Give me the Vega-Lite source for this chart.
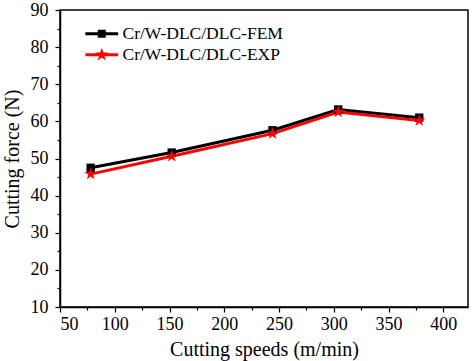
{
  "$schema": "https://vega.github.io/schema/vega-lite/v6.json",
  "autosize": {"type": "none"},
  "padding": {"left": 60, "top": 10, "right": 6, "bottom": 54},
  "width": 408,
  "height": 297,
  "config": {
    "font": "Liberation Serif",
    "view": {"stroke": "black", "strokeWidth": 1.5},
    "axis": {
      "grid": false,
      "domainColor": "black",
      "domainWidth": 1.5,
      "tickColor": "black",
      "tickWidth": 1.2,
      "labelColor": "black",
      "titleColor": "black",
      "labelFont": "Liberation Serif",
      "titleFont": "Liberation Serif",
      "labelOverlap": false,
      "titleFontWeight": "normal"
    }
  },
  "data": {
    "values": [
      {"series": "Cr/W-DLC/DLC-FEM", "speed": 78, "force": 47.5},
      {"series": "Cr/W-DLC/DLC-FEM", "speed": 152, "force": 51.6},
      {"series": "Cr/W-DLC/DLC-FEM", "speed": 244, "force": 57.6},
      {"series": "Cr/W-DLC/DLC-FEM", "speed": 304, "force": 63.2},
      {"series": "Cr/W-DLC/DLC-FEM", "speed": 378, "force": 61.0},
      {"series": "Cr/W-DLC/DLC-EXP", "speed": 78, "force": 45.8},
      {"series": "Cr/W-DLC/DLC-EXP", "speed": 152, "force": 50.6},
      {"series": "Cr/W-DLC/DLC-EXP", "speed": 244, "force": 56.7},
      {"series": "Cr/W-DLC/DLC-EXP", "speed": 304, "force": 62.5},
      {"series": "Cr/W-DLC/DLC-EXP", "speed": 378, "force": 60.2}
    ]
  },
  "encoding": {
    "x": {"field": "speed", "type": "quantitative",
      "scale": {"domain": [50, 422.5], "nice": false, "zero": false},
      "axis": {"values": [50, 75, 100, 125, 150, 175, 200, 225, 250, 275, 300, 325, 350, 375, 400],
        "labelExpr": "datum.value % 50 === 0 ? datum.label : ''",
        "labelFontSize": {"condition": {"test": "datum.value % 50 !== 0", "value": 0}, "value": 18},
        "labelOverlap": false, "labelBound": false,
        "tickSize": {"condition": {"test": "datum.value % 50 === 0", "value": 5}, "value": 3},
        "labelPadding": 3, "title": "Cutting speeds (m/min)", "titleFontSize": 20, "titlePadding": 6}},
    "y": {"field": "force", "type": "quantitative",
      "scale": {"domain": [10, 90], "nice": false, "zero": false},
      "axis": {"values": [10, 15, 20, 25, 30, 35, 40, 45, 50, 55, 60, 65, 70, 75, 80, 85, 90],
        "labelExpr": "datum.value % 10 === 0 ? datum.label : ''",
        "labelFontSize": {"condition": {"test": "datum.value % 10 !== 0", "value": 0}, "value": 18},
        "labelOverlap": false, "labelBound": false,
        "tickSize": {"condition": {"test": "datum.value % 10 === 0", "value": 5}, "value": 3},
        "labelPadding": 7, "title": "Cutting force (N)", "titleFontSize": 20, "titlePadding": 8}}
  },
  "layer": [
    {
      "mark": {"type": "line", "strokeWidth": 3},
      "encoding": {
        "color": {"field": "series", "type": "nominal",
          "scale": {"domain": ["Cr/W-DLC/DLC-FEM", "Cr/W-DLC/DLC-EXP"], "range": ["black", "#ff0000"]},
          "legend": {
            "orient": "none", "legendX": 33, "legendY": 15, "title": null, "padding": 0,
            "symbolSize": 64, "labelOffset": 12, "labelFontSize": 17.5, "labelFont": "Liberation Serif", "labelColor": "black", "labelLimit": 300,
            "encode": {"symbols": {"update": {
              "shape": {"signal": "datum.value == 'Cr/W-DLC/DLC-FEM' ? 'M-4.1,-0.38H4.1V0.38H-4.1Z M-1,-1H1V1H-1Z' : 'M-4.1,-0.38H4.1V0.38H-4.1Z M0,-1.75L0.393,-0.541L1.664,-0.541L0.635,0.207L1.029,1.416L0,0.669L-1.029,1.416L-0.635,0.207L-1.664,-0.541L-0.393,-0.541Z'"},
              "fill": {"signal": "datum.value == 'Cr/W-DLC/DLC-FEM' ? 'black' : '#ff0000'"},
              "stroke": {"value": "transparent"},
              "strokeWidth": {"value": 0},
              "opacity": {"value": 1},
              "fillOpacity": {"value": 1}
            }}}
          }},
        "order": {"field": "speed"}
      }
    },
    {
      "transform": [{"filter": "datum.series == 'Cr/W-DLC/DLC-FEM'"}],
      "mark": {"type": "point", "filled": true, "opacity": 1, "shape": "square", "size": 70, "color": "black"}
    },
    {
      "transform": [{"filter": "datum.series == 'Cr/W-DLC/DLC-EXP'"}],
      "mark": {"type": "point", "filled": true, "opacity": 1, "size": 170, "color": "#ff0000",
        "shape": "M0,-1L0.2245,-0.309L0.951,-0.309L0.363,0.118L0.588,0.809L0,0.382L-0.588,0.809L-0.363,0.118L-0.951,-0.309L-0.2245,-0.309Z"}
    }
  ]
}
